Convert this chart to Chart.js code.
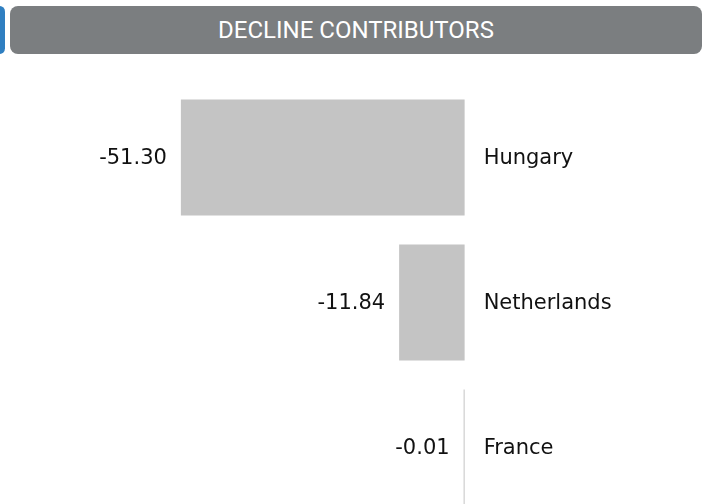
<!DOCTYPE html>
<html>
<head>
<meta charset="utf-8">
<script src="https://cdn.jsdelivr.net/npm/chart.js@4"></script>
<style>
  html, body { margin: 0; padding: 0; background: #fff; overflow: hidden; width: 708px; height: 504px; }
  .tab { position: absolute; left: -6px; top: 6px; width: 11px; height: 48px; background: #2f7fc1; border-radius: 6px; }
  .header { position: absolute; left: 10px; top: 6px; width: 692px; height: 48px; background: #7b7e80; border-radius: 8px;
            color: #fff; font: 400 24px Roboto, sans-serif; text-align: center; line-height: 49px; }
  .wrap { position: absolute; left: 0; top: 85px; width: 708px; height: 435px; }
</style>
</head>
<body>
<div class="tab"></div>
<div class="header">DECLINE CONTRIBUTORS</div>
<div class="wrap"><canvas id="declineChart"></canvas></div>
<script>
(function () {
  'use strict';

  var countries = ['Hungary', 'Netherlands', 'France'];
  var changes = [-51.30, -11.84, -0.01];

  // value on the left of each bar, country name right of the zero line
  var barLabels = {
    id: 'barLabels',
    afterDatasetsDraw: function (chart) {
      var ctx = chart.ctx;
      var meta = chart.getDatasetMeta(0);
      var zero = chart.scales.x.getPixelForValue(0);
      ctx.save();
      ctx.font = '21px "DejaVu Sans", sans-serif';
      ctx.fillStyle = '#111';
      ctx.textBaseline = 'middle';
      meta.data.forEach(function (bar, i) {
        ctx.textAlign = 'right';
        ctx.fillText(changes[i].toFixed(2), Math.min(bar.x, zero) - 14, bar.y + 1.5);
        ctx.textAlign = 'left';
        ctx.fillText(countries[i], zero + 19, bar.y + 1.5);
      });
      ctx.restore();
    }
  };

  var ctx = document.getElementById('declineChart').getContext('2d');
  var declineChart = new Chart(ctx, {
    type: 'bar',
    data: {
      labels: countries,
      datasets: [{
        data: changes,
        backgroundColor: '#c4c4c4',
        borderWidth: 0,
        barPercentage: 0.8,
        categoryPercentage: 1,
        minBarLength: 1
      }]
    },
    options: {
      indexAxis: 'y',
      responsive: true,
      maintainAspectRatio: false,
      animation: false,
      layout: { padding: 0 },
      plugins: {
        legend: { display: false },
        tooltip: { enabled: false }
      },
      scales: {
        x: { display: false, min: -84, max: 44 },
        y: { display: false }
      }
    },
    plugins: [barLabels]
  });
})();
</script>
</body>
</html>
